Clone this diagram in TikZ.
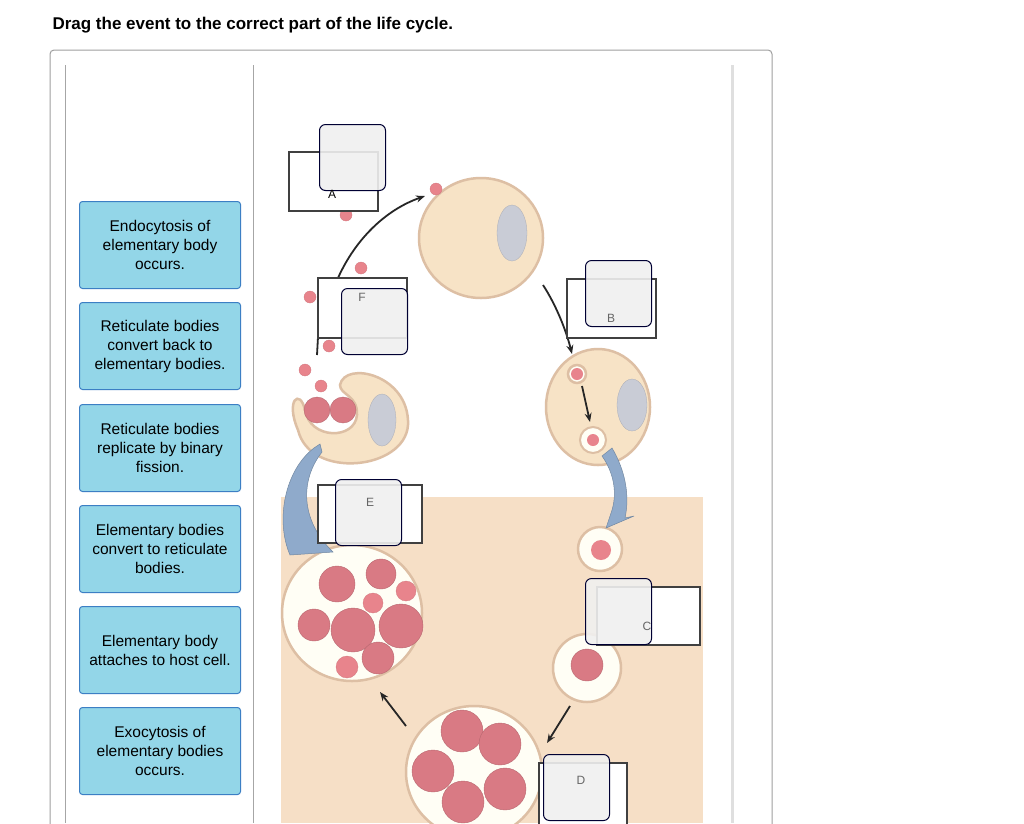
\documentclass[tikz,border=0pt]{standalone}
\usepackage{fontspec}
\setmainfont{Liberation Sans}
\usetikzlibrary{arrows.meta}
\definecolor{lblue}{HTML}{93D6E8}
\definecolor{bblue}{HTML}{3C7FC4}
\definecolor{peach}{HTML}{F6DFC6}
\definecolor{cellf}{HTML}{F7E3C6}
\definecolor{celle}{HTML}{DDBFA4}
\definecolor{pinkc}{HTML}{E8848C}
\definecolor{rb}{HTML}{D97A84}
\definecolor{nuc}{HTML}{C9CCD6}
\definecolor{arrb}{HTML}{8FAACB}
\begin{document}
\begin{tikzpicture}[x=1pt,y=-1pt,
 lab/.style={draw=bblue,line width=1pt,fill=lblue,rounded corners=3pt,minimum width=161pt,minimum height=87pt,align=center,font=\fontsize{15.5}{19}\selectfont,anchor=north west},
 drop/.style={draw=black!75,line width=1.2pt,fill=white},
 tile/.style={draw=black!80!blue,line width=1pt,fill=gray!12,fill opacity=0.9,rounded corners=6pt},
 tl/.style={font=\fontsize{12}{13}\selectfont,text=gray!80!black},
 cell/.style={draw=celle,line width=2.5pt,fill=cellf},
 vac/.style={draw=celle,line width=2.5pt,fill=white!96!yellow},
 eb/.style={fill=pinkc,draw=pinkc!90!black,line width=0.3pt},
 rbod/.style={fill=rb,draw=rb!85!black,line width=0.4pt},
 nucl/.style={fill=nuc,draw=nuc!85!black,line width=0.3pt},
 arr/.style={-{Stealth[length=9pt,width=7pt]},line width=1.8pt,black!85},
 barr/.style={fill=arrb,draw=arrb!80!black,line width=0.5pt}]
\useasboundingbox (0,0) rectangle (1024,823);
\fill[white] (0,0) rectangle (1024,823);
\node[anchor=west,font=\bfseries\fontsize{17}{20}\selectfont] (title) at (49,25) {Drag the event to the correct part of the life cycle.};
\draw[gray!75,line width=1pt,rounded corners=4pt] (50,830) -- (50,50) -- (772,50) -- (772,830);
\draw[gray!70,line width=1pt] (65,65) -- (65,823);
\draw[gray!70,line width=1pt] (253,65) -- (253,823);
\fill[gray!25] (731,65) rectangle (734,823);
% labels
\node[lab] (l1) at (79,201) {Endocytosis of\\elementary body\\occurs.};
\node[lab] (l2) at (79,302) {Reticulate bodies\\convert back to\\elementary bodies.};
\node[lab] (l3) at (79,404) {Reticulate bodies\\replicate by binary\\fission.};
\node[lab] (l4) at (79,505) {Elementary bodies\\convert to reticulate\\bodies.};
\node[lab] (l5) at (79,606) {Elementary body\\attaches to host cell.};
\node[lab] (l6) at (79,707) {Exocytosis of\\elementary bodies\\occurs.};
% peach area
\fill[peach] (281,497) rectangle (703,823);
% top cell
\draw[cell] (481,238) ellipse (62 and 60);
\draw[nucl] (512,233) ellipse (15 and 28);
% right cell
\draw[cell] (598,407) ellipse (52 and 58);
\draw[nucl] (632,405) ellipse (15 and 26);
\draw[vac] (577,374) circle (9);
\fill[pinkc] (577,374) circle (6);
\draw[vac,line width=2pt] (593,440) circle (13);
\fill[pinkc] (593,440) circle (6);
% left crescent cell
\draw[cell] (298,430) .. controls (285,400) and (300,388) .. (305,410) .. controls (310,440) and (355,440) .. (357,415) .. controls (358,395) and (340,395) .. (340,385) .. controls (345,360) and (410,375) .. (408,425) .. controls (405,470) and (310,480) .. (298,430) -- cycle;
\draw[nucl] (382,420) ellipse (14 and 26);
\draw[rbod] (317,410) circle (13);
\draw[rbod] (343,410) circle (13);
% small EBs
\foreach \x/\y in {436/189,346/215,361/268,310/297,329/346,305/370,321/386} \fill[eb] (\x,\y) circle (6);
% big inclusion
\draw[vac] (352,613) ellipse (70 and 68);
\draw[rbod] (337,584) circle (18); \draw[rbod] (381,574) circle (15);
\draw[eb] (406,591) circle (10); \draw[eb] (373,603) circle (10);
\draw[rbod] (314,625) circle (16); \draw[rbod] (353,630) circle (22);
\draw[rbod] (401,626) circle (22); \draw[rbod] (378,658) circle (16);
\draw[eb] (347,667) circle (11);
% bottom inclusion
\draw[vac] (474,772) ellipse (68 and 66);
\draw[rbod] (462,731) circle (21); \draw[rbod] (500,744) circle (21);
\draw[rbod] (433,771) circle (21); \draw[rbod] (505,789) circle (21);
\draw[rbod] (463,802) circle (21);
% small inclusions
\draw[vac,line width=2.5pt] (600,549) circle (22); \fill[pinkc] (601,550) circle (10);
\draw[vac,line width=2.5pt] (587,668) circle (34); \draw[rbod] (587,665) circle (16);
% blue arrows
\draw[barr] (290,555) .. controls (275,520) and (285,470) .. (314,448) -- (320,444) -- (322,452) .. controls (300,480) and (300,520) .. (333,552) -- cycle;
\draw[barr] (612,448) .. controls (625,470) and (630,495) .. (625,518) -- (634,516) -- (606,528) -- (612,510) .. controls (618,490) and (612,470) .. (602,456) -- cycle;
% black arrows
\coordinate (a1s) at (338,278); \coordinate (a1e) at (425,196);
\draw[arr] (a1s) .. controls (355,240) and (385,210) .. (a1e);
\coordinate (a0) at (317,355); \coordinate (a0e) at (318,337);
\draw[line width=1.8pt,black!85] (a0) -- (a0e);
\coordinate (b1s) at (543,285); \coordinate (b1e) at (572,354);
\draw[arr] (b1s) .. controls (556,305) and (566,330) .. (b1e);
\coordinate (b2s) at (582,386); \coordinate (b2e) at (590,422);
\draw[arr] (b2s) -- (b2e);
\coordinate (d1s) at (570,706); \coordinate (d1e) at (547,743);
\draw[arr] (d1s) -- (d1e);
\coordinate (c1s) at (406,726); \coordinate (c1e) at (380,692);
\draw[arr] (c1s) -- (c1e);
% drop zones
\draw[drop] (289,152) rectangle (378,211);
\node[tile,minimum width=66pt,minimum height=66pt,anchor=north west] (tA) at (319,124) {};
\node[font=\fontsize{12}{13}\selectfont] (A) at (332,194) {A};
\draw[drop] (318,278) rectangle (407,338);
\node[tile,minimum width=66pt,minimum height=66pt,anchor=north west] (tF) at (341,288) {};
\node[tl] (F) at (362,297) {F};
\draw[drop] (567,279) rectangle (656,338);
\node[tile,minimum width=66pt,minimum height=66pt,anchor=north west] (tB) at (585,260) {};
\node[tl] (B) at (611,318) {B};
\draw[drop] (318,485) rectangle (422,543);
\node[tile,minimum width=66pt,minimum height=66pt,anchor=north west] (tE) at (335,479) {};
\node[tl] (E) at (370,502) {E};
\draw[drop] (597,587) rectangle (700,645);
\node[tile,minimum width=66pt,minimum height=66pt,anchor=north west] (tC) at (585,578) {};
\node[tl] (C) at (647,626) {C};
\draw[drop] (539,763) rectangle (627,830);
\node[tile,minimum width=66pt,minimum height=66pt,anchor=north west] (tD) at (543,754) {};
\node[tl] (D) at (581,780) {D};
\end{tikzpicture}
\end{document}
